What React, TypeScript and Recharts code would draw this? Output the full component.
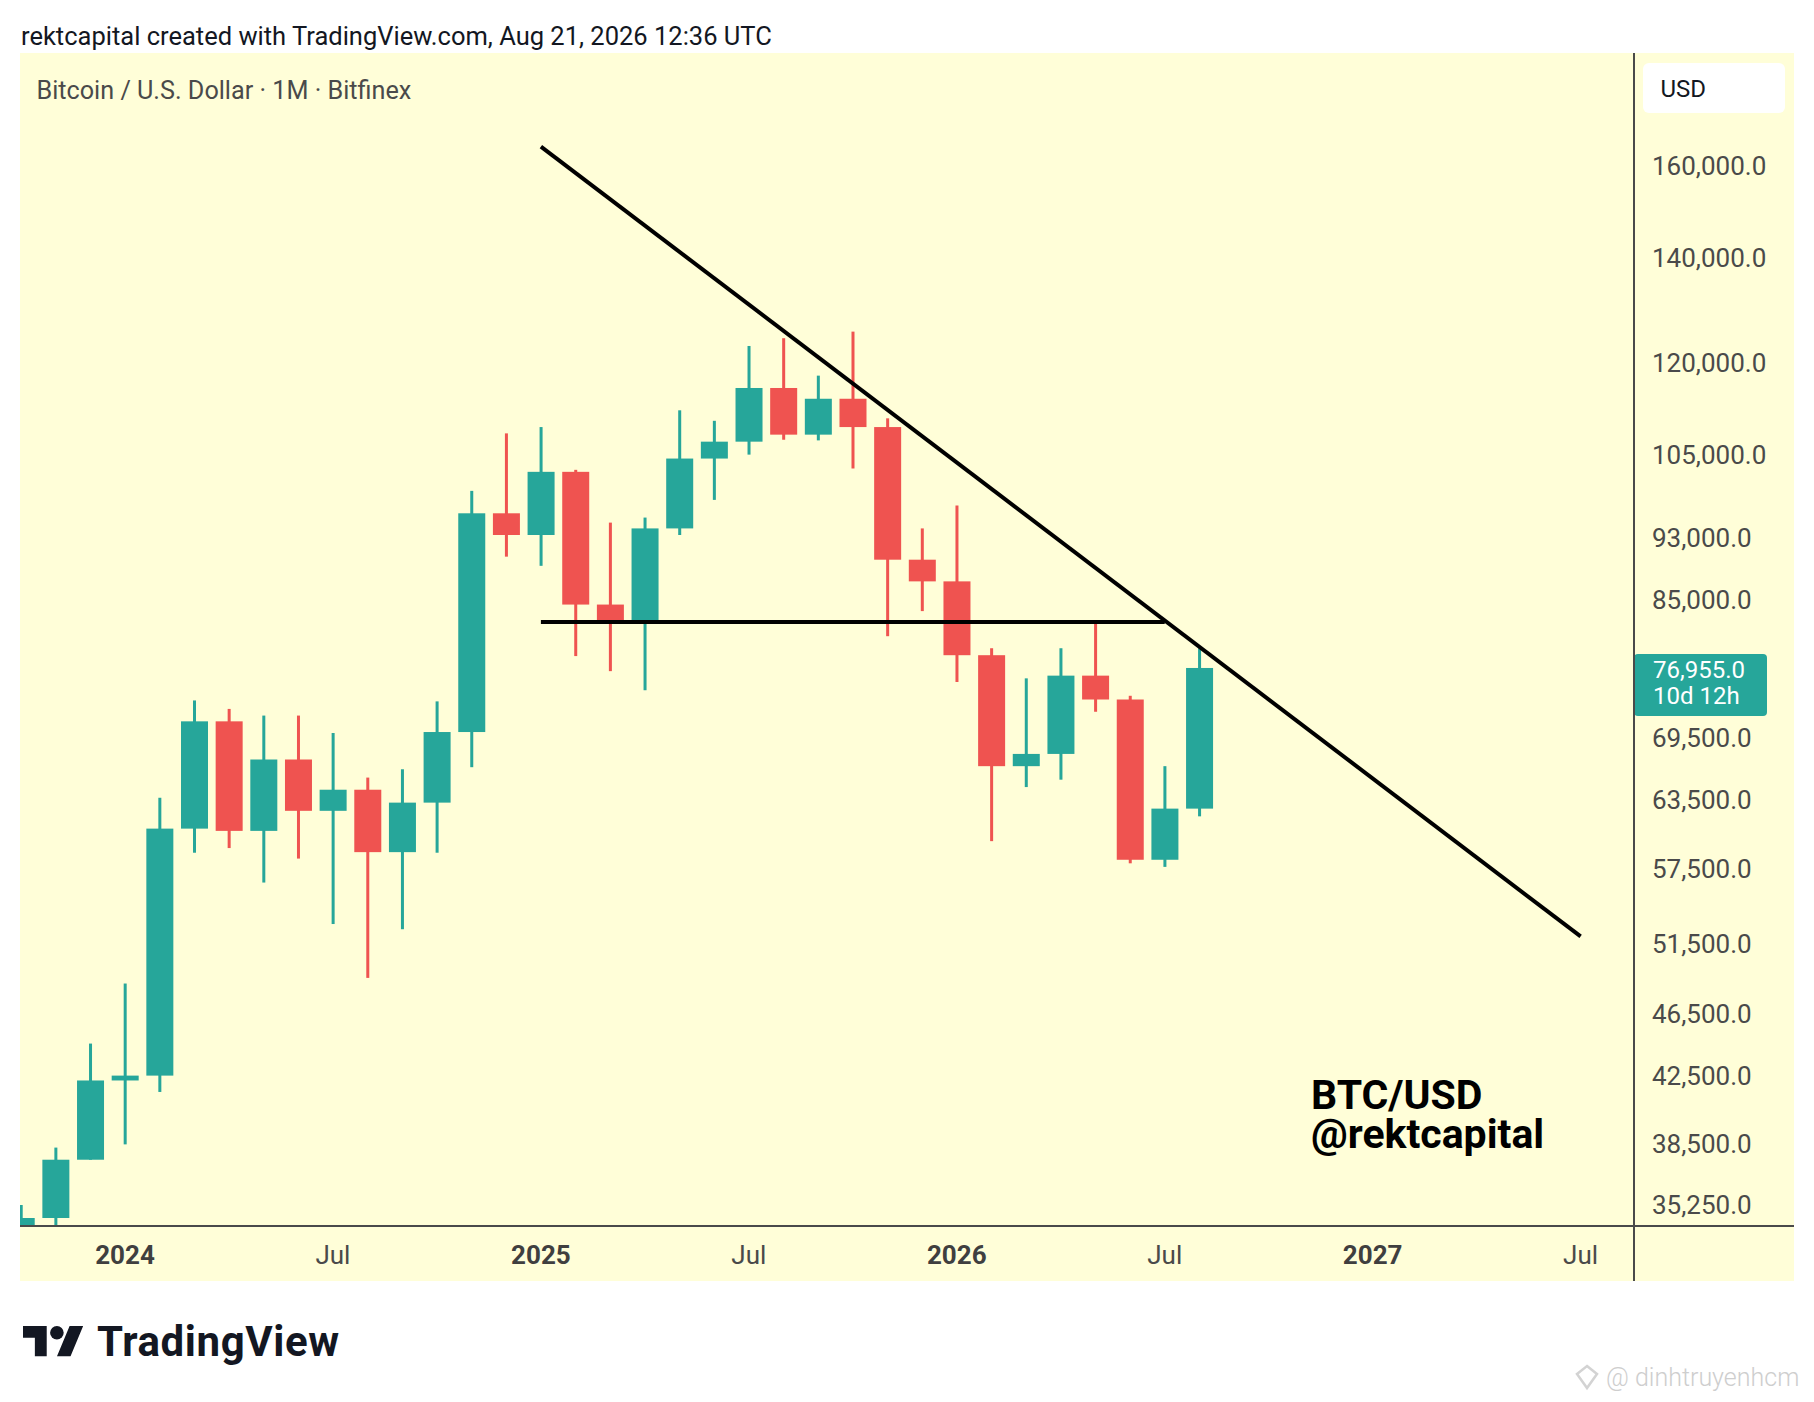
import React from 'react';
import { ComposedChart, Bar, XAxis, YAxis, ReferenceLine } from 'recharts';

// monthly candles, month offset from Jan 2024
const months = [-3, -2, -1, 0, 1, 2, 3, 4, 5, 6, 7, 8, 9, 10, 11, 12, 13, 14, 15, 16, 17, 18, 19, 20, 21, 22, 23, 24, 25, 26, 27, 28, 29, 30, 31];
const opens = [26970, 34540, 37600, 42200, 42500, 60900, 71200, 60700, 67350, 62500, 64450, 58850, 63250, 70100, 96400, 93400, 102400, 84400, 82300, 94300, 104400, 107000, 115700, 108100, 113900, 109300, 90100, 87300, 78400, 66700, 67900, 76100, 73500, 58200, 62700];
const highs = [35200, 38270, 44530, 48600, 63700, 73400, 72500, 71800, 71800, 70000, 65600, 66400, 73300, 99600, 108300, 109300, 102700, 95100, 95800, 112000, 110300, 123000, 124400, 117800, 125600, 110700, 94300, 97500, 79200, 75800, 79200, 82500, 73900, 66700, 79200];
const lows = [26540, 34100, 37600, 38450, 41500, 58800, 59200, 56300, 58300, 53000, 49000, 52600, 58800, 66600, 90500, 89300, 78300, 76600, 74500, 93400, 98300, 105000, 107300, 107200, 102900, 80600, 83600, 75400, 59800, 64700, 65400, 72200, 57900, 57600, 62000];
const closes = [34540, 37600, 42200, 42500, 60900, 71200, 60700, 67350, 62500, 64450, 58850, 63250, 70100, 96400, 93400, 102400, 84400, 82300, 94300, 104400, 107000, 115700, 108100, 113900, 109300, 90100, 87300, 78400, 66700, 67900, 76100, 73500, 58200, 62700, 76955];

const priceTicks = [35250, 38500, 42500, 46500, 51500, 57500, 63500, 69500, 85000, 93000, 105000, 120000, 140000, 160000];
const timeTicks = [0, 6, 12, 18, 24, 30, 36, 42];
const timeLabels = ['2024', 'Jul', '2025', 'Jul', '2026', 'Jul', '2027', 'Jul'];

const trendLine = [{ x: 12, y: 164450 }, { x: 42, y: 52050 }];
const supportLine = [{ x: 12, y: 82290 }, { x: 30, y: 82290 }];
const lastPrice = 76955;
const timeLeft = '10d 12h';

const UP = '#26a69a';
const DOWN = '#ef5350';
const FONT = 'Roboto, "Noto Sans", sans-serif';

const candles = months.map((m, i) => ({
    m, open: opens[i], high: highs[i], low: lows[i], close: closes[i]
}));

const fmt = (v: number) => v.toLocaleString('en-US', { minimumFractionDigits: 1, maximumFractionDigits: 1 });

const Candle = (props: any) => {
    const { x, y, width, height } = props;
    const d = props.payload || props;
    const top = Math.min(y, y + height);
    const bottom = Math.max(y, y + height);
    const span = Math.log(d.high) - Math.log(d.low);
    // position of a price inside the high..low bar (log axis)
    const py = (v: number) => top + (bottom - top) * (Math.log(d.high) - Math.log(v)) / span;
    const color = d.close >= d.open ? UP : DOWN;
    const cx = x + width / 2;
    const bTop = py(Math.max(d.open, d.close));
    const bBot = py(Math.min(d.open, d.close));
    return (
        <g>
            <rect x={cx - 1.5} y={top} width={3} height={bottom - top} fill={color} />
            <rect x={x} y={bTop} width={width} height={Math.max(bBot - bTop, 3)} fill={color} />
        </g>
    );
};

const PriceTick = (props: any) => {
    const { x, y, payload } = props;
    return (
        <text x={x + 18} y={y + 9.5} fontSize={26} fill="#4a4a4a" fontFamily={FONT}>
            {fmt(payload.value)}
        </text>
    );
};

const TimeTick = (props: any) => {
    const { x, y, payload } = props;
    const label = timeLabels[timeTicks.indexOf(payload.value)];
    const isYear = label !== 'Jul';
    return (
        <text x={x} y={y + 38} textAnchor="middle" fontSize={26} fontFamily={FONT}
            fontWeight={isYear ? 700 : 400} fill={isYear ? '#3f3f3f' : '#4a4a4a'}>
            {label}
        </text>
    );
};

const PriceBadge = (props: any) => {
    const { viewBox } = props;
    const left = viewBox.x + viewBox.width;
    const cy = viewBox.y;
    return (
        <g>
            <rect x={left} y={cy - 14} width={133} height={62} rx={4} fill={UP} />
            <text x={left + 19} y={cy + 10} fill="#fff" fontSize={24} fontFamily={FONT}>{fmt(lastPrice)}</text>
            <text x={left + 19} y={cy + 36.5} fill="#fff" fontSize={24} fontFamily={FONT}>{timeLeft}</text>
        </g>
    );
};

const App = () => {
    return (
        <div style={{ position: 'relative', width: 1814, height: 1402, overflow: 'hidden', background: '#fff', fontFamily: FONT }}>
            <style>{'body{margin:0;background:#fff}'}</style>
            <div style={{ position: 'absolute', left: 20, top: 53, width: 1774, height: 1228, background: '#FFFED8' }} />
            <div style={{ position: 'absolute', left: 20, top: 54 }}>
                <ComposedChart width={1773} height={1227} data={candles} margin={{ top: 0, right: 0, bottom: 0, left: 0 }}>
                    <XAxis dataKey="m" type="number" domain={[-3.03, 43.54]} allowDataOverflow ticks={timeTicks} interval={0}
                        height={55} axisLine={false} tickLine={false} tickSize={0} tickMargin={0} tick={<TimeTick />} />
                    <YAxis orientation="right" scale="log" domain={[34140, 188190]} allowDataOverflow ticks={priceTicks} interval={0}
                        width={159} axisLine={false} tickLine={false} tickSize={0} tickMargin={0} tick={<PriceTick />} />
                    <ReferenceLine segment={supportLine} stroke="#000" strokeWidth={4} />
                    <ReferenceLine segment={trendLine} stroke="#000" strokeWidth={4} />
                    <Bar dataKey={(d: any) => [d.low, d.high]} barSize={27} shape={<Candle />} isAnimationActive={false} />
                    <ReferenceLine y={lastPrice} stroke="none" label={<PriceBadge />} />
                </ComposedChart>
            </div>
            <div style={{ position: 'absolute', left: 1633, top: 53, width: 2, height: 1228, background: '#4a4a4a' }} />
            <div style={{ position: 'absolute', left: 20, top: 1225, width: 1774, height: 2, background: '#4a4a4a' }} />
            <div style={{ position: 'absolute', left: 1643, top: 63, width: 142, height: 50, background: '#fff', borderRadius: 6 }} />
            <svg width={1814} height={1402} style={{ position: 'absolute', left: 0, top: 0, pointerEvents: 'none' }}>
                <text x={21} y={44.5} fontSize={25.5} fill="#131722" fontFamily={FONT}>
                    rektcapital created with TradingView.com, Aug 21, 2026 12:36 UTC
                </text>
                <text x={36.5} y={99} fontSize={25.2} fill="#4a4a4a" fontFamily={FONT}>
                    Bitcoin / U.S. Dollar · 1M · Bitfinex
                </text>
                <text x={1660.5} y={96.6} fontSize={24} fill="#131722" fontFamily={FONT}>USD</text>
                <text fontSize={41} fontWeight={700} fill="#000" fontFamily={FONT}>
                    <tspan x={1311} y={1108.7}>BTC/USD</tspan>
                    <tspan x={1311} y={1148}>@rektcapital</tspan>
                </text>
                <svg x={23} y={1326} width={61} height={30.5} viewBox="0 4 36 18">
                    <path d="M14 22H7V11H0V4h14v18zM28 22h-8l7.5-18h8L28 22z" fill="#131722" />
                    <circle cx={20} cy={8} r={4} fill="#131722" />
                </svg>
                <text x={97} y={1356} fontSize={42} fontWeight={700} fill="#131722" fontFamily={FONT} letterSpacing={0.6}>TradingView</text>
                <g opacity={0.9}>
                    <path d="M1587 1366 l10 8 l-10 14 l-10 -14 z" fill="none" stroke="#cfcfcf" strokeWidth={2.5} />
                    <text x={1606} y={1386} fontSize={25} fontWeight={300} fill="#c9c9c9" fontFamily={FONT}>@ dinhtruyenhcm</text>
                </g>
            </svg>
        </div>
    );
};

export default App;
